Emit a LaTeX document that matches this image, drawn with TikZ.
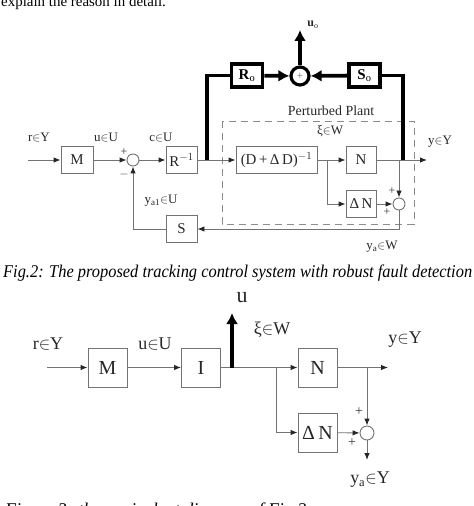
\documentclass[tikz,border=0pt]{standalone}
\usepackage{fontspec}
\setmainfont{Liberation Serif}
\usepackage{tikz}
\usetikzlibrary{positioning}
\usetikzlibrary{arrows,arrows.meta,shapes}
\usetikzlibrary{calc}
\definecolor{wire}{gray}{0.45}
\tikzstyle{block}=[rectangle,draw=wire,line width=0.9pt,minimum height=27bp,inner sep=0pt,font=\fontsize{15}{15}\selectfont,text=black!85]
\tikzstyle{bigblock}=[block,minimum height=39bp,font=\fontsize{20}{20}\selectfont]
\tikzstyle{boldblock}=[rectangle,draw=black,line width=3.8pt,minimum height=23bp,inner sep=0pt,font=\bfseries\fontsize{15}{15}\selectfont]
\tikzstyle{summer}=[circle,draw=wire,line width=0.9pt,minimum size=12bp,inner sep=0pt]
\tikzstyle{boldsummer}=[circle,draw=black,line width=3.2pt,minimum size=18bp,inner sep=0pt,font=\fontsize{11}{11}\selectfont,text=black!60]
\tikzstyle{edge} = [draw=wire,line width=0.9pt,-{Latex[length=7bp,width=5.5bp,color=black!85]}]
\tikzstyle{line} = [draw=wire,line width=0.9pt]
\tikzstyle{boldedge} = [draw=black,line width=3.8pt,-{Latex[length=11bp,width=12bp]}]
\tikzstyle{boldline} = [draw=black,line width=3.8pt]
\tikzstyle{signal} = [font=\fontsize{13}{13}\selectfont,text=black!85]
\tikzstyle{bigsignal} = [font=\fontsize{18}{18}\selectfont,text=black!85]
\tikzstyle{sign} = [font=\fontsize{12}{12}\selectfont,text=black!80]
\tikzstyle{caption} = [anchor=base west,inner sep=0pt,font=\itshape\fontsize{18}{18}\selectfont]

\begin{document}
\begin{tikzpicture}[x=1bp,y=-1bp]
   \useasboundingbox (0,0) rectangle (474,506);

   % running text and captions
   \node[anchor=base west,inner sep=0pt,font=\fontsize{15}{15}\selectfont] (txt) at (1,7) {explain the reason in detail.};
   \node[caption] (cap2) at (3,277) {\scalebox{0.915}[1]{Fig.2: The proposed tracking control system with robust fault detection}};
   \node[caption] (cap3) at (5,515) {Figure 3: the equivalent diagram of Fig.2};

   % Fig.2 : blocks
   \foreach \pos/\name/\w/\label in {{(77,160)/M1/32/M}, {(181.5,160)/Rinv/31/R$^{-1}$}, {(276.5,160)/Dinv/81/(D\,+\,Δ\,D)$^{-1}$}, {(361,160)/N1/30/N}, {(361,204)/DN1/30/Δ\,N}, {(181.5,229)/S1/31/S}}
        \node[block,minimum width=\w bp] (\name) at \pos {\label};

   \foreach \pos/\name/\label in {{(247,75.5)/Ro/R$_{\mathrm{o}}$}, {(364.5,75.5)/So/S$_{\mathrm{o}}$}}
        \node[boldblock,minimum width=31bp] (\name) at \pos {\label};

   \node[summer] (sumA) at (133,160) {};
   \node[summer] (sumB) at (399,204) {};
   \node[boldsummer] (sumO) at (300,76) {+};

   \coordinate (in1) at (28,160);
   \coordinate (br1) at (207,160);
   \coordinate (br2) at (403,160);
   \coordinate (br3) at (327,160);
   \coordinate (br4) at (399,160);
   \coordinate (out1) at (427,160);
   \coordinate (uo) at (300,30);

   \draw[dashed,draw=black!45,line width=0.8pt,dash pattern=on 7bp off 5bp] (222,121) rectangle (414,224);

   % Connect blocks
   \foreach \source/\dest in {in1/M1, M1/sumA, sumA/Rinv, Rinv/Dinv, Dinv/N1, DN1/sumB, br4/sumB}
          \path[edge] (\source) -- (\dest);
   \path[edge] (N1) -- (out1);
   \path[edge] (br3) |- (DN1);
   \path[edge] (sumB) |- (S1);
   \path[edge] (S1) -| (sumA);

   \path[boldline] (br1) |- (Ro);
   \path[boldline] (br2) |- (So);
   \foreach \source/\dest in {Ro/sumO, So/sumO, sumO/uo}
          \path[boldedge] (\source) -- (\dest);

   % signals
   \node[signal] at (39,137) {r$\in$Y};
   \node[signal] at (106,137) {u$\in$U};
   \node[signal] at (161,137) {c$\in$U};
   \node[signal,font=\fontsize{14}{14}\selectfont] at (331,111) {Perturbed Plant};
   \node[signal] at (440,142) {y$\in$Y};
   \node[signal] at (330,131) {ξ$\in$W};
   \node[signal] at (161,201) {y$_{\mathrm{a1}}$$\in$U};
   \node[signal] at (382,247) {y$_{\mathrm{a}}$$\in$W};
   \node[signal,font=\bfseries\fontsize{12}{12}\selectfont] at (313,25) {u$_{\mathrm{o}}$};
   \node[sign] at (124,152) {+};
   \node[sign] at (124,175) {$-$};
   \node[sign] at (392,191) {+};
   \node[sign] at (387,212) {+};

   % Fig.3 : blocks
   \foreach \pos/\name/\label in {{(107.5,367.5)/M2/M}, {(201,367.5)/I2/I}, {(317.5,367.5)/N2/N}, {(317.5,432.5)/DN2/Δ\,N}}
        \node[bigblock,minimum width=39bp] (\name) at \pos {\label};

   \node[summer,minimum size=14bp] (sumC) at (367,433) {};

   \coordinate (in2) at (47,367.5);
   \coordinate (br5) at (232,367.5);
   \coordinate (br6) at (276,367.5);
   \coordinate (br7) at (367,367.5);
   \coordinate (out2) at (388,367.5);
   \coordinate (u2) at (232,313);
   \coordinate (ya2) at (367,460);

   \foreach \source/\dest in {in2/M2, M2/I2, I2/N2, N2/out2, br7/sumC, DN2/sumC, sumC/ya2}
          \path[edge] (\source) -- (\dest);
   \path[edge] (br6) |- (DN2);
   \path[boldedge] (br5) -- (u2);

   \node[bigsignal] at (48,344) {r$\in$Y};
   \node[bigsignal] at (155,344) {u$\in$U};
   \node[bigsignal] at (272,330) {ξ$\in$W};
   \node[bigsignal] at (405,340) {y$\in$Y};
   \node[bigsignal] at (370,480) {y$_{\mathrm{a}}$$\in$Y};
   \node[bigsignal,font=\fontsize{22}{22}\selectfont] at (242,298) {u};
   \node[sign,font=\fontsize{14}{14}\selectfont] at (359,412) {+};
   \node[sign,font=\fontsize{14}{14}\selectfont] at (352,443) {+};

\end{tikzpicture}
\end{document}
